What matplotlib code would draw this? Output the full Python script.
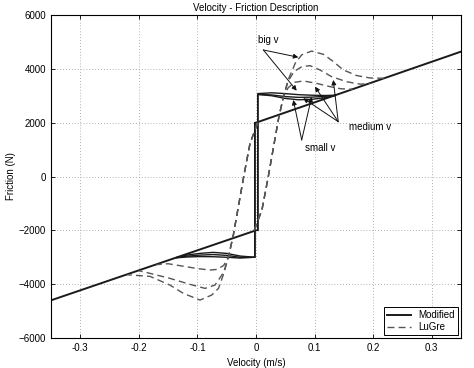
import matplotlib
matplotlib.use('Agg')
import matplotlib.pyplot as plt

plt.rcParams['font.family'] = ['Liberation Sans', 'DejaVu Sans']

# steady-state line (Modified)
line_neg_v = [-0.35, 0.0]
line_neg_f = [-4600, -2000]
line_pos_v = [0.0, 0.35]
line_pos_f = [2000, 4640]

# Modified: jump at v=0 then curve back to the line
mod_pos_v = [0.003, 0.003, 0.027, 0.05, 0.073, 0.096, 0.118, 0.135]
mod_pos_f = {
    'small':  [-2000, 3050, 3000, 2900, 2850, 2870, 2930, 3010],
    'medium': [-2000, 3050, 3030, 2970, 2940, 2950, 2980, 3010],
    'big':    [-2000, 3080, 3110, 3080, 3040, 3020, 3010, 3020],
}
mod_neg_v = [-0.002, -0.002, -0.027, -0.05, -0.073, -0.096, -0.118, -0.135]
mod_neg_f = {
    'small':  [2000, -3000, -2955, -2856, -2819, -2856, -2918, -3004],
    'medium': [2000, -3000, -3000, -2930, -2900, -2920, -2960, -3010],
    'big':    [2000, -3000, -3030, -3000, -2980, -2975, -2990, -3020],
}

# LuGre
lu_pos = {
    'small': ([-0.003, 0.0102, 0.021, 0.0387, 0.047, 0.055, 0.066, 0.081, 0.1035, 0.126, 0.145, 0.165],
              [-2000, -1234, 0, 2174, 2980, 3300, 3500, 3550, 3460, 3340, 3260, 3240]),
    'medium': ([-0.003, 0.0102, 0.021, 0.0387, 0.047, 0.055, 0.065, 0.078, 0.092, 0.109, 0.129, 0.155, 0.178, 0.195],
               [-2000, -1234, 0, 2174, 2980, 3550, 3900, 4080, 4120, 3960, 3710, 3520, 3430, 3460]),
    'big': ([-0.003, 0.0102, 0.021, 0.0387, 0.047, 0.055, 0.067, 0.078, 0.095, 0.115, 0.132, 0.149, 0.172, 0.195, 0.22],
            [-2000, -1234, 0, 2174, 2980, 3600, 4210, 4520, 4660, 4540, 4270, 3960, 3750, 3660, 3650]),
}
lu_neg = {
    'small': ([0.003, -0.0102, -0.021, -0.0387, -0.047, -0.055, -0.066, -0.0785, -0.1, -0.125, -0.15, -0.17],
              [2000, 1234, 0, -2174, -2980, -3300, -3450, -3475, -3420, -3330, -3240, -3275]),
    'medium': ([0.003, -0.0102, -0.021, -0.0387, -0.047, -0.055, -0.07, -0.087, -0.1126, -0.147, -0.181, -0.2],
               [2000, 1234, 0, -2174, -2980, -3550, -4033, -4156, -4007, -3784, -3598, -3500]),
    'big': ([0.003, -0.0102, -0.021, -0.0387, -0.047, -0.055, -0.064, -0.0757, -0.0956, -0.124, -0.147, -0.181, -0.22],
            [2000, 1234, 0, -2174, -2980, -3600, -4156, -4405, -4590, -4342, -4033, -3710, -3650]),
}

# annotation arrows: (text, text pos, start of arrows, arrow tips)
notes = [
    ('big v', (0.0205, 5074), (0.0125, 4702), [(0.0722, 4431), (0.0695, 3189)]),
    ('medium v', (0.1587, 1840), (0.1404, 2037), [(0.1319, 3587), (0.1007, 3338), (0.0807, 2907)]),
    ('small v', (0.109, 1059), (0.078, 1357), [(0.0637, 2843), (0.095, 2955)]),
]

solid_c = '#1a1a1a'
dash_c = '#555555'

fig = plt.figure(figsize=(4.74, 3.68), dpi=100)
ax = fig.add_axes([0.1076, 0.0815, 0.865, 0.8777])

ax.plot(line_neg_v, line_neg_f, color=solid_c, lw=1.4, label='Modified')
ax.plot(line_pos_v, line_pos_f, color=solid_c, lw=1.4)
for k in mod_pos_f:
    ax.plot(mod_pos_v, mod_pos_f[k], color=solid_c, lw=1.0)
    ax.plot(mod_neg_v, mod_neg_f[k], color=solid_c, lw=1.0)

first = True
for k in lu_pos:
    v, f = lu_pos[k]
    ax.plot(v, f, color=dash_c, lw=1.0, ls=(0, (5, 3)), label='LuGre' if first else None)
    first = False
    v, f = lu_neg[k]
    ax.plot(v, f, color=dash_c, lw=1.0, ls=(0, (5, 3)))

for text, tpos, start, tips in notes:
    ha = 'left' if text == 'medium v' else 'center'
    ax.text(tpos[0], tpos[1], text, fontsize=7, ha=ha, va='center')
    for tip in tips:
        ax.annotate('', xy=tip, xytext=start,
                    arrowprops=dict(arrowstyle='-|>', color='#111111', lw=0.7,
                                    mutation_scale=7, shrinkA=0, shrinkB=0))

ax.set_xlim(-0.35, 0.35)
ax.set_ylim(-6000, 6000)
ax.set_xticks([-0.3, -0.2, -0.1, 0, 0.1, 0.2, 0.3])
ax.set_xticklabels(['-0.3', '-0.2', '-0.1', '0', '0.1', '0.2', '0.3'])
ax.set_yticks([-6000, -4000, -2000, 0, 2000, 4000, 6000])
ax.tick_params(direction='in', labelsize=7, length=3, width=0.6, top=True, right=True)
ax.grid(True, ls=(0, (1, 2.5)), color='#999999', lw=0.6)
for s in ax.spines.values():
    s.set_linewidth(0.8)

ax.set_title('Velocity - Friction Description', fontsize=7, pad=3)
ax.set_xlabel('Velocity (m/s)', fontsize=7, labelpad=4)
ax.set_ylabel('Friction (N)', fontsize=7, labelpad=2)

leg = ax.legend(loc='lower right', fontsize=7, fancybox=False, edgecolor='black',
                framealpha=1, handlelength=2.5, borderpad=0.3, labelspacing=0.2,
                borderaxespad=0.3)
leg.get_frame().set_linewidth(0.7)

fig.savefig('out.png', dpi=100)
